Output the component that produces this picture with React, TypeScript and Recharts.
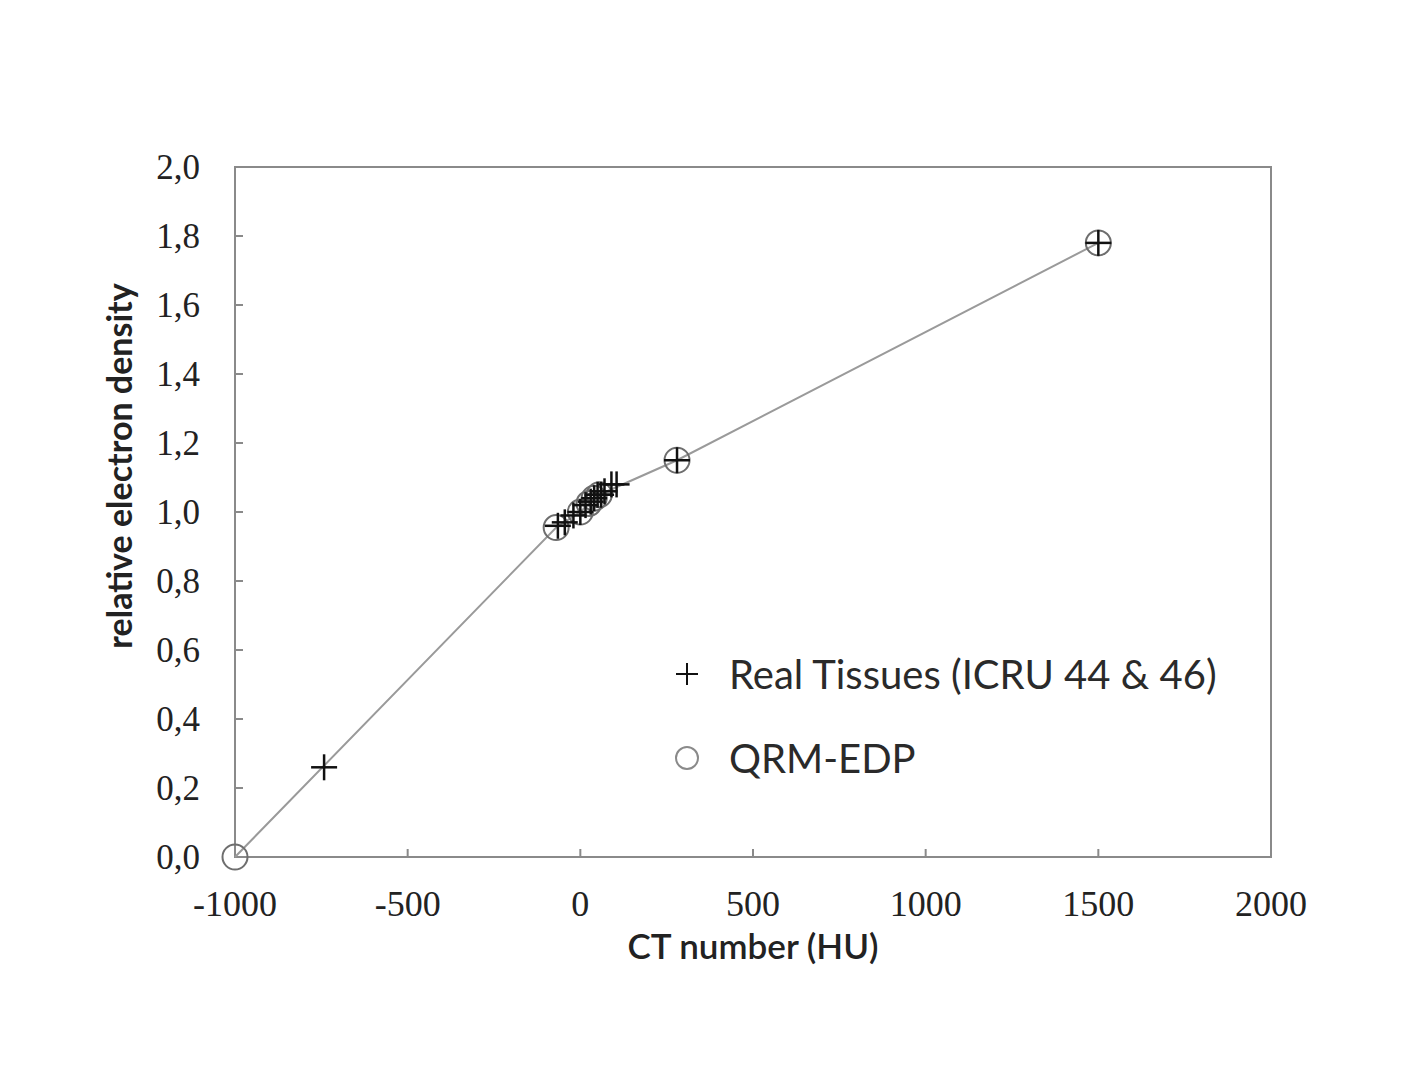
import React from 'react';
import { ScatterChart, Scatter, XAxis, YAxis, Legend, ReferenceArea, Label } from 'recharts';

// Real tissues (ICRU 44 & 46)
const tissueHU = [-742, -65, -45, -20, 0, 15, 30, 40, 50, 60, 70, 90, 105, 280, 1500];
const tissueRED = [0.26, 0.96, 0.97, 0.99, 1.0, 1.02, 1.03, 1.04, 1.05, 1.05, 1.06, 1.08, 1.08, 1.15, 1.78];

// QRM-EDP phantom inserts
const phantomHU = [-1000, -70, 0, 25, 40, 55, 280, 1500];
const phantomRED = [0.0, 0.955, 1.0, 1.025, 1.04, 1.05, 1.15, 1.78];

const xTicks = [-1000, -500, 0, 500, 1000, 1500, 2000];
const yTicks = [0, 0.2, 0.4, 0.6, 0.8, 1.0, 1.2, 1.4, 1.6, 1.8, 2.0];

const tissues = tissueHU.map((x, i) => ({ x, y: tissueRED[i] }));
const phantom = phantomHU.map((x, i) => ({ x, y: phantomRED[i] }));

const axisColor = '#8a8a8a';
const serif = '"Liberation Serif", "DejaVu Serif", serif';
const sans = 'Lato, "Open Sans", sans-serif';

const Cross = (props: any) => {
  const { cx, cy } = props;
  const s = 13;
  return (
    <g stroke="#111" strokeWidth={2.5}>
      <line x1={cx - s} y1={cy} x2={cx + s} y2={cy} />
      <line x1={cx} y1={cy - s} x2={cx} y2={cy + s} />
    </g>
  );
};

const Ring = (props: any) => {
  const { cx, cy } = props;
  return <circle cx={cx} cy={cy} r={12.5} fill="none" stroke="#6e6e6e" strokeWidth={2} />;
};

const renderLegend = (props: any) => {
  const items = (props.payload || []).slice().reverse();
  return (
    <div style={{ fontFamily: sans, fontSize: 40, color: '#2a2a2a' }}>
      {items.map((p: any, i: number) => (
        <div key={i} style={{ display: 'flex', alignItems: 'center', height: 84 }}>
          <svg width={50} height={40} style={{ marginRight: 17 }}>
            {p.value === 'QRM-EDP' ? (
              <circle cx={25} cy={20} r={11} fill="none" stroke="#8a8a8a" strokeWidth={2} />
            ) : (
              <g stroke="#111" strokeWidth={2}>
                <line x1={14} y1={20} x2={36} y2={20} />
                <line x1={25} y1={9} x2={25} y2={31} />
              </g>
            )}
          </svg>
          <span>{p.value}</span>
        </div>
      ))}
    </div>
  );
};

const YTitle = (props: any) => {
  const { viewBox } = props;
  const cx = viewBox.x + 13;
  const cy = viewBox.y + viewBox.height / 2 - 46;
  return (
    <text
      x={cx}
      y={cy}
      transform={`rotate(-90, ${cx}, ${cy})`}
      textAnchor="middle"
      dominantBaseline="central"
      fontFamily={sans}
      fontWeight={700}
      fontSize={34}
      fill="#222"
    >
      relative electron density
    </text>
  );
};

export default function App() {
  return (
    <ScatterChart width={1406} height={1000} margin={{ top: 159, right: 143, bottom: 31, left: 97 }}>
      <XAxis
        type="number"
        dataKey="x"
        domain={[-1000, 2000]}
        ticks={xTicks}
        height={120}
        stroke={axisColor}
        strokeWidth={2}
        tickSize={-8}
        tickMargin={41}
        tick={{ fill: '#222', fontFamily: serif, fontSize: 36 }}
      >
        <Label
          value="CT number (HU)"
          position="insideBottom"
          offset={18}
          style={{ fontFamily: sans, fontSize: 35, fill: '#222', fontWeight: 600 }}
        />
      </XAxis>
      <YAxis
        type="number"
        dataKey="y"
        domain={[0, 2]}
        ticks={yTicks}
        width={130}
        stroke={axisColor}
        strokeWidth={2}
        tickSize={-8}
        tickMargin={43}
        tickFormatter={(v: number) => v.toFixed(1).replace('.', ',')}
        tick={{ fill: '#222', fontFamily: serif, fontSize: 35 }}
      >
        <Label content={YTitle} />
      </YAxis>
      <ReferenceArea x1={-1000} x2={2000} y1={0} y2={2} fill="none" stroke={axisColor} strokeWidth={2} />
      <Legend
        layout="vertical"
        align="center"
        verticalAlign="middle"
        content={renderLegend}
        wrapperStyle={{ left: 654, top: 624, width: 'auto' }}
      />
      <Scatter
        name="QRM-EDP"
        data={phantom}
        line={{ stroke: '#9a9a9a', strokeWidth: 2 }}
        shape={Ring}
        isAnimationActive={false}
      />
      <Scatter name="Real Tissues (ICRU 44 & 46)" data={tissues} shape={Cross} isAnimationActive={false} />
    </ScatterChart>
  );
}
